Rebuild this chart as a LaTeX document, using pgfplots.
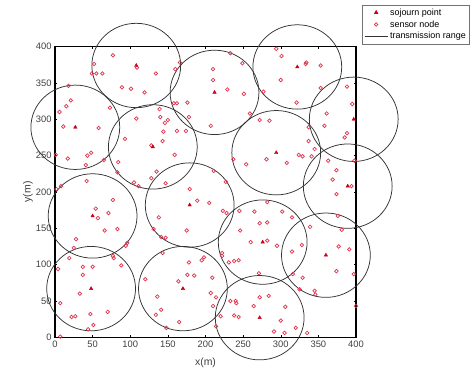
\documentclass[border=0pt]{standalone}
\usepackage{fontspec}
\setmainfont{Liberation Sans}
\usepackage{pgfplots}
\pgfplotsset{compat=1.18}
\usepackage{pgfplotstable}
\definecolor{nodered}{rgb}{0.88,0.2,0.3}
\definecolor{sojred}{rgb}{0.8,0,0.1}
\definecolor{ringgray}{gray}{0.2}
\pgfplotsset{
 mylegline/.style={legend image code/.code={\draw[##1] (0bp,0bp) -- (23bp,0bp);}},
 mylegmark/.style={legend image code/.code={\draw[##1] plot coordinates {(11.5bp,0bp)};}},
}
\pgfplotstableread{
x y
108 374
212 337
322 372
397 300
27 289
130 262
294 254
389 208
179 182
50 167
276 131
360 113
48 67
170 67
272 27
}\sojourn
\pgfplotstableread{
x y
77 388
52 376
109 371
49 363
55 363
63 363
134 363
166 378
160 369
89 344
101 342
119 337
18 346
21 326
15 318
6 310
11 290
58 288
73 316
158 322
162 322
176 323
139 314
108 301
140 303
150 299
146 295
178 303
144 283
162 284
174 284
143 270
93 273
128 264
294 397
301 387
334 378
333 376
353 374
353 343
321 323
300 354
277 338
233 391
249 377
210 369
210 354
229 341
251 335
259 308
207 291
272 299
285 298
388 345
395 321
361 308
358 291
337 289
388 281
385 275
337 270
17 246
43 250
48 254
41 237
1 251
65 244
159 251
84 241
83 227
105 213
111 208
128 219
135 228
147 212
42 215
8 208
2 204
77 189
54 177
57 164
71 171
66 147
83 149
28 135
138 165
131 149
141 138
147 137
179 204
189 188
175 147
345 259
324 251
329 249
341 249
281 245
308 240
254 238
237 245
363 243
374 230
369 217
374 197
394 208
398 243
211 229
227 214
205 185
223 174
228 171
245 174
265 173
282 186
302 173
315 165
272 157
282 158
246 147
339 152
376 167
381 148
260 131
282 133
25 123
19 109
4 94
37 97
50 97
37 86
33 60
7 47
70 35
22 28
27 29
47 32
51 17
44 11
7 1
78 109
77 112
96 130
94 126
88 99
120 80
143 116
136 56
141 38
134 31
148 13
165 21
164 77
176 86
185 85
178 103
195 106
198 110
295 126
328 127
315 118
377 125
391 121
374 91
397 87
329 82
316 87
325 66
345 64
346 59
400 43
271 88
222 116
222 112
231 103
238 105
244 106
209 82
207 61
214 55
210 43
220 29
214 15
233 50
240 50
241 47
238 30
244 28
264 43
272 55
284 57
306 42
300 23
320 13
291 8
305 6
335 6
}\sensors
\begin{document}
\begin{tikzpicture}
\begin{axis}[
 x=0.7525bp, y=0.72675bp,
 xmin=0, xmax=400, ymin=0, ymax=400,
 xtick={0,50,...,400}, ytick={0,50,...,400},
 tick align=inside, major tick length=2.5bp,
 axis line style={line width=1.6bp, black},
 tick style={black, line width=0.5bp},
 clip=false,
 ticklabel style={font=\fontsize{9.4}{10}\selectfont, text=black!75},
 /pgf/number format/assume math mode=true,
 xlabel={x(m)}, ylabel={y(m)},
 label style={font=\fontsize{10.5}{12}\selectfont, text=black!75},
 xlabel style={at={(axis description cs:0.5,-0.086)}, anchor=center},
 ylabel style={at={(axis description cs:-0.09,0.5)}, anchor=center},
 legend style={at={(1.379,1.144)}, anchor=north east, draw=black!55,
   font=\fontsize{9}{10}\selectfont, inner xsep=2bp, inner ysep=1.5bp,
   row sep=0bp, cells={anchor=west}, line width=0.6bp},
]
\path (rel axis cs:-0.1827,-0.1366) rectangle (rel axis cs:1.392,1.1603);
\addplot[forget plot, only marks, mark=o, mark size=44.4bp,
  mark options={ringgray, line width=0.75bp, yscale=0.95}] table {\sojourn};
\addplot[forget plot, only marks, mark=o, mark size=1.8bp,
  mark options={nodered, line width=0.7bp}] table {\sensors};
\addplot[forget plot, only marks, mark=triangle*, mark size=2bp,
  mark options={sojred}] table {\sojourn};
\addlegendimage{mylegmark, mark=triangle*, mark size=2bp, sojred}
\addlegendimage{mylegmark, mark=o, mark size=1.8bp, line width=0.7bp, nodered}
\addlegendimage{mylegline, ringgray, line width=0.75bp}
\legend{sojourn point, sensor node, transmission range}
\end{axis}
\end{tikzpicture}
\end{document}
